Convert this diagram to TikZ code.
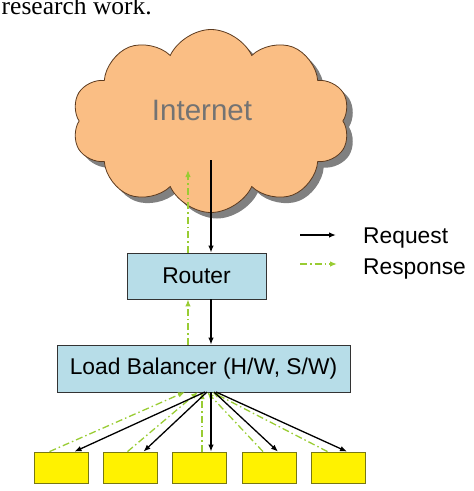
\documentclass[tikz,border=0pt]{standalone}
\usepackage{fontspec}
\setmainfont{Liberation Sans}
\newfontfamily\captionserif{Liberation Serif}
\usetikzlibrary{shapes.symbols,shadows,arrows.meta}
\definecolor{cloudfill}{RGB}{250,190,132}
\definecolor{cloudedge}{RGB}{92,58,30}
\definecolor{boxblue}{RGB}{183,221,232}
\definecolor{respgreen}{RGB}{153,204,51}
\definecolor{srvedge}{RGB}{120,120,20}
\tikzset{
  req/.style={-{Latex[length=7pt,width=5.5pt]}, line width=1.3pt, black},
  resp/.style={-{Latex[length=7pt,width=5.5pt]}, line width=1.3pt, respgreen,
    dash pattern=on 7pt off 3pt on 1.5pt off 3pt},
  netbox/.style={draw=black!80, fill=boxblue, line width=0.8pt, font=\fontsize{22.8}{26}\selectfont},
  srvbox/.style={draw=srvedge, fill=yellow, line width=0.8pt, minimum width=54pt, minimum height=31pt},
  legtext/.style={anchor=base west, font=\fontsize{22.8}{26}\selectfont, inner sep=0pt}
}
\begin{document}
\begin{tikzpicture}[x=1pt, y=-1pt]
\useasboundingbox (0,0) rectangle (474,491);
\node[anchor=base east, inner sep=0pt, font=\captionserif\fontsize{25.5}{28}\selectfont] (caption) at (152,14) {research work.};
\node[cloud, cloud puffs=10, cloud puff arc=130, cloud ignores aspect, minimum width=278pt, minimum height=183pt,
  draw=cloudedge, fill=cloudfill, line width=0.8pt,
  drop shadow={shadow xshift=6pt, shadow yshift=-6pt, fill=black!50, opacity=1}] (inet) at (211,121) {};
\node[text=black!55, font=\fontsize{29.5}{32}\selectfont] (inetlbl) at (202,110) {Internet};
\node[netbox, minimum width=139pt, minimum height=46pt] (router) at (196.5,276) {Router};
\node[netbox, minimum width=293pt, minimum height=47pt] (lb) at (203.5,368.5) {Load Balancer (H/W, S/W)};
\node[srvbox] (srv1) at (61.5,467.5) {};
\node[srvbox] (srv2) at (130.5,467.5) {};
\node[srvbox] (srv3) at (199.5,467.5) {};
\node[srvbox] (srv4) at (269,467.5) {};
\node[srvbox] (srv5) at (338.5,467.5) {};
\coordinate (reqin) at (211,160);
\coordinate (respout) at (188,170);
\draw[req] (reqin) -- (reqin |- router.north);
\draw[resp] (respout |- router.north) -- (respout);
\draw[req] (reqin |- router.south) -- (reqin |- lb.north);
\draw[resp] (respout |- lb.north) -- (respout |- router.south);
\coordinate (lbq1) at (205,392);
\coordinate (lbq2) at (207,392);
\coordinate (lbq3) at (211,392);
\coordinate (lbq4) at (214,392);
\coordinate (lbq5) at (216,392);
\coordinate (lbp1) at (185,392);
\coordinate (lbp2) at (198,392);
\coordinate (lbp3) at (202,392);
\coordinate (lbp4) at (207,392);
\coordinate (lbp5) at (212,392);
\draw[resp] ([xshift=-12pt]srv1.north) -- (lbp1);
\draw[resp] ([xshift=-3pt]srv2.north) -- (lbp2);
\draw[resp] ([xshift=2.5pt]srv3.north) -- (lbp3);
\draw[resp] ([xshift=-6pt]srv4.north) -- (lbp4);
\draw[resp] ([xshift=-11pt]srv5.north) -- (lbp5);
\draw[req] (lbq1) -- ([xshift=13pt]srv1.north);
\draw[req] (lbq2) -- ([xshift=13pt]srv2.north);
\draw[req] (lbq3) -- ([xshift=11.5pt]srv3.north);
\draw[req] (lbq4) -- ([xshift=9pt]srv4.north);
\draw[req] (lbq5) -- ([xshift=8.5pt]srv5.north);
\node[legtext] (reqtxt) at (363,243) {Request};
\node[legtext] (resptxt) at (363,274) {Response};
\coordinate (reqa) at (300,235);
\coordinate (reqb) at (336,235);
\coordinate (respa) at (300,264);
\coordinate (respb) at (337,264);
\draw[req] (reqa) -- (reqb);
\draw[resp] (respa) -- (respb);
\end{tikzpicture}
\end{document}
